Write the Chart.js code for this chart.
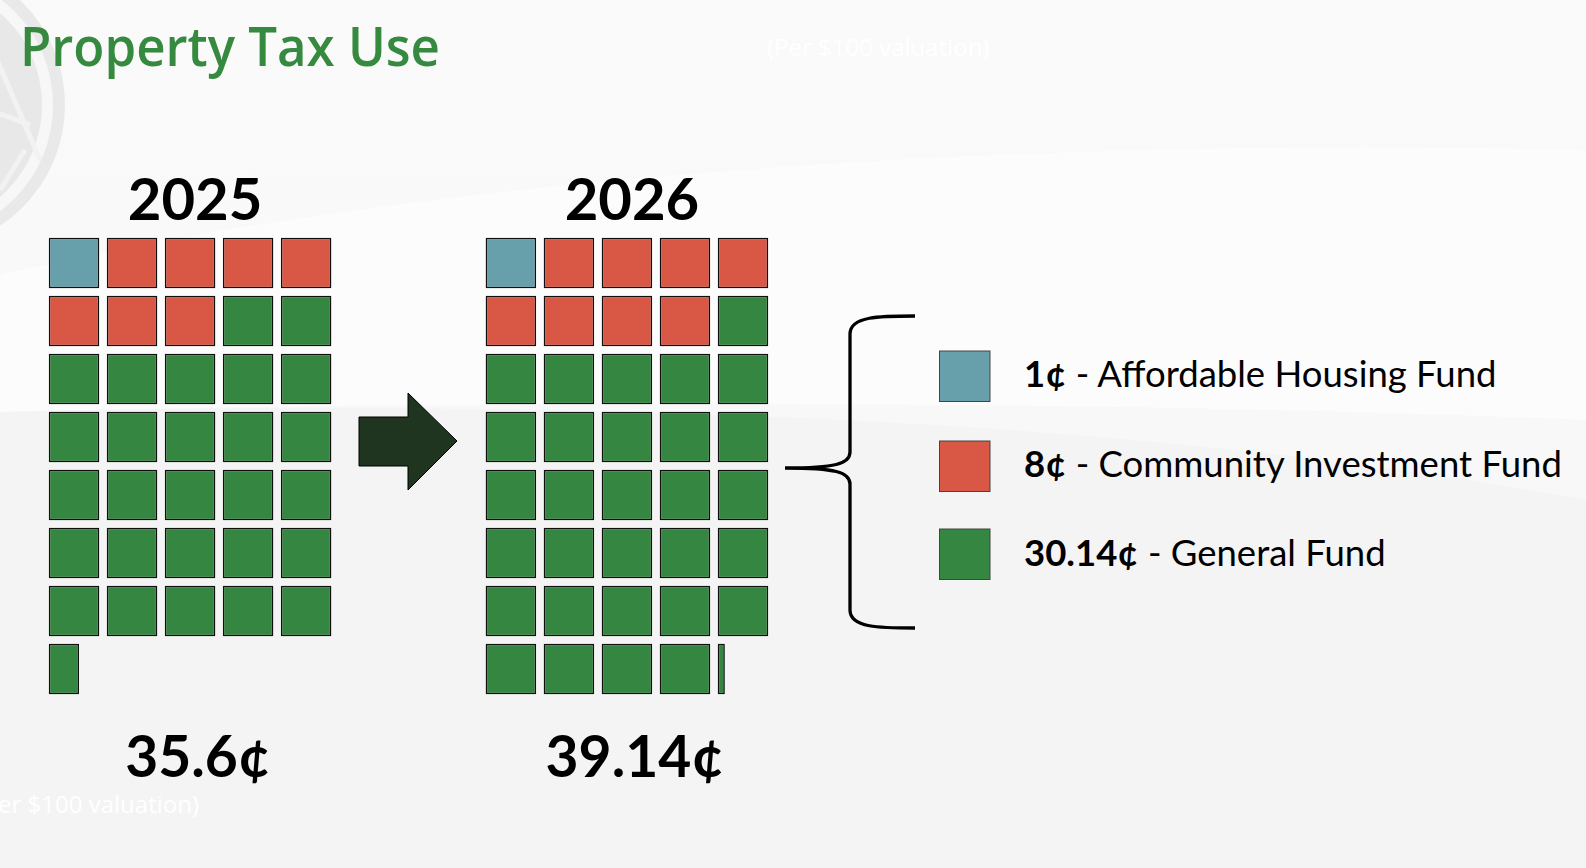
<!DOCTYPE html>
<html>
<head>
<meta charset="utf-8">
<script src="https://cdn.jsdelivr.net/npm/chart.js@4.4.1/dist/chart.umd.min.js"></script>
<style>
  html, body { margin: 0; padding: 0; }
  body { width: 1586px; height: 868px; position: relative; overflow: hidden; background: #f4f4f4; }
  #bg { position: absolute; left: 0; top: 0; }
  #waffle { position: absolute; left: 45px; top: 234px; }
  svg text { font-family: Lato, "Open Sans", sans-serif; }
</style>
</head>
<body>
<svg id="bg" width="1586" height="868" xmlns="http://www.w3.org/2000/svg">
  <defs>
    <linearGradient id="topfade" x1="0" y1="0" x2="0" y2="1">
      <stop offset="0" stop-color="#fafafa"/>
      <stop offset="1" stop-color="#f6f6f6"/>
    </linearGradient>
  </defs>
  <rect width="1586" height="868" fill="url(#topfade)"/>
  <!-- white swooshes -->
  <path d="M0,275 C400,180 1000,135 1586,150 L1586,420 C1100,400 500,400 0,412 Z" fill="#fcfcfc" opacity="0.8"/>
  <path d="M0,412 C500,400 1100,410 1586,500 L1586,868 L0,868 Z" fill="#f4f4f4"/>
  <!-- faint logo -->
  <circle cx="-80" cy="105" r="145" fill="#e9e9e9"/>
  <circle cx="-80" cy="105" r="133" fill="#f7f7f7"/>
  <circle cx="-80" cy="105" r="122" fill="#e8e8e8"/>
  <path d="M-20,20 L40,160 M-10,110 L30,125 M0,190 L25,150" stroke="#f2f2f2" stroke-width="5" fill="none"/>

  <text x="20" y="66" font-weight="600" font-size="55" fill="#368a40" textLength="420" lengthAdjust="spacingAndGlyphs" style="font-family:'Open Sans',sans-serif">Property Tax Use</text>
  <text x="767" y="56" font-size="24" fill="#ffffff" style="font-family:'Open Sans',sans-serif">(Per $100 valuation)</text>
  <text x="199" y="813" font-size="24" fill="#ffffff" text-anchor="end" style="font-family:'Open Sans',sans-serif">(Per $100 valuation)</text>

  <g id="yearLabels" font-weight="700" font-size="58" fill="#000" text-anchor="middle"></g>
  <g id="totalLabels" font-weight="700" font-size="57" fill="#000" text-anchor="middle"></g>

  <!-- arrow -->
  <polygon points="359,417 408,417 408,393 457,441 408,490 408,466 359,466" fill="#1f3520" stroke="#000" stroke-width="1"/>
  <!-- brace -->
  <path d="M915,316 C880,316 850,316 850,334 L850,452 C850,464 835,468 785,468 C835,468 850,472 850,484 L850,610 C850,628 880,628 915,628"
        stroke="#000" stroke-width="3.3" fill="none"/>

  <g id="legend"></g>
</svg>
<canvas id="waffle" width="727" height="464"></canvas>
<script>
// values in cents per $100 valuation
const years = ['2025', '2026'];
const fundNames = ['Affordable Housing Fund', 'Community Investment Fund', 'General Fund'];
const affordable = [1, 1];
const community = [7, 8];
const general = [27.6, 30.14];

const fundColors = ['#67a0aa', '#d85745', '#358640'];
const COLS = 5, ROWS = 8;
const GAP = 0.13;           // gap between squares, in cell units
const OFFSETS = [0, 7.53];  // left edge of each waffle, in cell units

const funds = [affordable, community, general];
const totals = years.map((_, i) => +(affordable[i] + community[i] + general[i]).toFixed(2));

function fundAt(i, u) {
    let acc = 0;
    for (let f = 0; f < funds.length; f++) {
        acc += funds[f][i];
        if (u < acc) return f;
    }
    return funds.length - 1;
}

// one dataset per waffle column, one bar per row
const datasets = [];
years.forEach((year, i) => {
    for (let c = 0; c < COLS; c++) {
        const data = [], colors = [];
        for (let r = 0; r < ROWS; r++) {
            const k = r * COLS + c;
            const fill = Math.min(1, totals[i] - k);
            if (fill <= 0) { data.push(null); colors.push('transparent'); continue; }
            const x0 = OFFSETS[i] + c + GAP / 2;
            data.push([x0, x0 + fill * (1 - GAP)]);
            colors.push(fundColors[fundAt(i, k + fill / 2)]);
        }
        datasets.push({
            label: year + ' col ' + (c + 1),
            data: data,
            backgroundColor: colors,
            borderColor: '#111',
            borderWidth: 1.5,
            borderSkipped: false,
            grouped: false,
            barPercentage: 0.87,
            categoryPercentage: 1
        });
    }
});

const shadow = {
    id: 'shadow',
    beforeDatasetsDraw(chart) {
        const c = chart.ctx;
        c.save();
        c.shadowColor = 'rgba(0,0,0,0.28)';
        c.shadowBlur = 3;
        c.shadowOffsetX = 0.5;
        c.shadowOffsetY = 0.5;
    },
    afterDatasetsDraw(chart) {
        chart.ctx.restore();
    }
};

const ctx = document.getElementById('waffle').getContext('2d');
const chart = new Chart(ctx, {
    type: 'bar',
    data: {
        labels: Array.from({length: ROWS}, (_, r) => 'row ' + (r + 1)),
        datasets: datasets
    },
    options: {
        indexAxis: 'y',
        responsive: false,
        animation: false,
        devicePixelRatio: 1,
        layout: { padding: 0 },
        plugins: {
            legend: { display: false },
            tooltip: { enabled: false }
        },
        scales: {
            x: { type: 'linear', min: 0, max: OFFSETS[1] + COLS, display: false },
            y: { display: false }
        }
    },
    plugins: [shadow]
});

// labels above and below each waffle, centred on its columns
const NS = 'http://www.w3.org/2000/svg';
function addText(parent, x, y, str) {
    const t = document.createElementNS(NS, 'text');
    t.setAttribute('x', x);
    t.setAttribute('y', y);
    t.textContent = str;
    parent.appendChild(t);
    return t;
}
const xs = chart.scales.x;
years.forEach((year, i) => {
    const cx = 45 + xs.getPixelForValue(OFFSETS[i] + COLS / 2);
    addText(document.getElementById('yearLabels'), cx + 5, 220, year);
    addText(document.getElementById('totalLabels'), cx + 8, 777, totals[i] + '¢');
});

// legend uses the latest year
const legend = document.getElementById('legend');
const swatchTops = [351, 441, 529];
const baselines = [387, 477, 566];
const last = years.length - 1;
fundNames.forEach((name, f) => {
    const r = document.createElementNS(NS, 'rect');
    r.setAttribute('x', 939.5); r.setAttribute('y', swatchTops[f]);
    r.setAttribute('width', 50.5); r.setAttribute('height', 50.5);
    r.setAttribute('fill', fundColors[f]);
    r.setAttribute('stroke', '#444'); r.setAttribute('stroke-width', 1);
    legend.appendChild(r);
    const t = addText(legend, 1024, baselines[f], '');
    t.setAttribute('font-size', 36.5);
    t.setAttribute('fill', '#000');
    const b = document.createElementNS(NS, 'tspan');
    b.setAttribute('font-weight', 700);
    b.textContent = funds[f][last] + '¢';
    t.appendChild(b);
    const rest = document.createElementNS(NS, 'tspan');
    rest.textContent = ' - ' + name;
    t.appendChild(rest);
});
</script>
</body>
</html>
